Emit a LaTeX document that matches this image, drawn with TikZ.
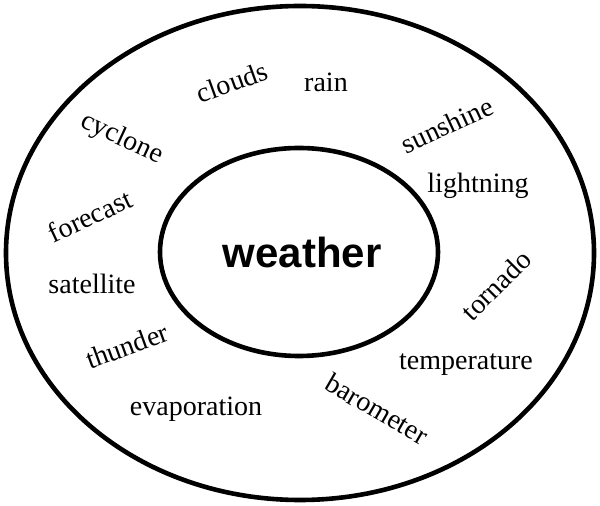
\documentclass[tikz,border=0pt]{standalone}
\usepackage{fontspec}
\setmainfont{Liberation Serif}
\setsansfont{Liberation Sans}
\begin{document}
\begin{tikzpicture}[x=1pt,y=1pt,
  ring/.style={draw=black,line width=4.6pt},
  word/.style={font=\fontsize{28}{31}\selectfont,inner sep=0pt,anchor=center},
  hub/.style={font=\sffamily\bfseries\fontsize{42}{46}\selectfont,inner sep=0pt}]
\useasboundingbox (0,0) rectangle (600,506);
\draw[ring] (300,253) ellipse [x radius=294, y radius=247];
\draw[ring] (299,254) ellipse [x radius=139, y radius=104];
\node[hub] (weather) at (302,254) {weather};
\node[word,rotate=20] (clouds) at (232,424) {clouds};
\node[word] (rain) at (326,424) {rain};
\node[word,rotate=25] (sunshine) at (447,381) {sunshine};
\node[word,rotate=-25] (cyclone) at (122,367) {cyclone};
\node[word] (lightning) at (478,320) {lightning};
\node[word,rotate=25] (forecast) at (90,290) {forecast};
\node[word] (satellite) at (92,222) {satellite};
\node[word,rotate=45] (tornado) at (496,221) {tornado};
\node[word,rotate=20] (thunder) at (127,160) {thunder};
\node[word] (temperature) at (466,141) {temperature};
\node[word,rotate=-30] (barometer) at (377,97) {barometer};
\node[word] (evaporation) at (196,97) {evaporation};
\end{tikzpicture}
\end{document}
